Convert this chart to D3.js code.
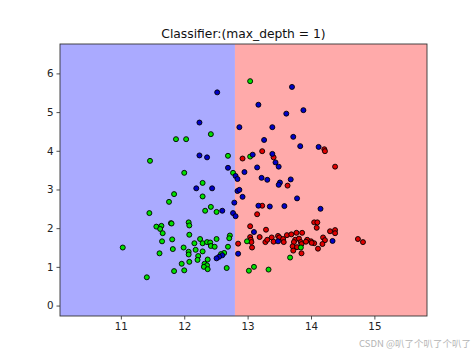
<!DOCTYPE html>
<html>
<head>
<meta charset="utf-8">
<script src="https://cdn.jsdelivr.net/npm/d3@7"></script>
<style>
  body { margin: 0; background: #fff; }
  text { font-family: "DejaVu Sans", sans-serif; }
</style>
</head>
<body>
<div id="chart"></div>
<script>
// class 0 (red), class 1 (green), class 2 (blue) : [x, y]
var redPts = [
  [14.21,4.04],[14.22,3.99],[13.23,3.99],[13.41,3.83],[12.92,3.80],[14.38,3.59],[13.63,3.10],
  [13.23,2.58],[13.15,2.36],[14.05,2.15],[14.10,2.15],[14.09,2.01],[13.04,2.05],[13.29,1.96],
  [14.30,1.92],[14.38,1.95],[14.38,1.87],[13.04,1.77],[13.05,1.70],[13.19,1.77],[13.38,1.76],
  [13.48,1.80],[13.50,1.76],[13.56,1.72],[13.62,1.82],[13.69,1.84],[13.77,1.88],[13.86,1.88],
  [13.75,1.70],[13.81,1.73],[13.84,1.64],[13.94,1.70],[14.00,1.66],[14.05,1.61],[14.19,1.76],
  [14.22,1.69],[14.74,1.72],[14.82,1.64],[12.85,1.60],[13.06,1.64],[13.28,1.64],[13.31,1.70],
  [13.41,1.65],[13.57,1.64],[13.73,1.64],[13.92,1.65],[13.71,1.53],[13.78,1.51],[13.85,1.59],
  [14.01,1.62],[14.18,1.59],[13.07,1.50],[14.11,1.47],[13.72,1.42],[13.85,1.35]
];
var greenPts = [
  [12.42,4.43],[11.87,4.30],[12.03,4.30],[11.46,3.74],[12.69,3.87],[12.77,3.43],[12.00,3.43],
  [12.29,3.17],[11.84,2.88],[12.29,2.82],[13.04,5.80],[13.04,3.85],[11.76,2.68],[11.45,2.39],
  [12.42,2.55],[12.33,2.45],[12.51,2.42],[11.79,2.13],[11.80,2.12],[12.07,2.15],[12.08,2.07],
  [11.56,2.04],[11.64,2.06],[11.62,1.98],[11.66,1.87],[12.08,1.83],[11.81,1.71],[11.65,1.66],
  [12.25,1.72],[12.51,1.72],[12.72,1.81],[12.71,1.74],[12.16,1.61],[12.29,1.61],[12.36,1.64],
  [12.41,1.63],[12.42,1.54],[12.48,1.52],[12.69,1.52],[11.03,1.50],[11.99,1.50],[11.82,1.46],
  [12.18,1.44],[12.29,1.40],[12.07,1.39],[12.07,1.32],[11.61,1.35],[12.63,1.36],[12.58,1.33],
  [12.22,1.28],[12.21,1.18],[12.37,1.19],[12.08,1.13],[11.96,1.08],[12.32,1.08],[12.36,1.04],
  [12.31,1.00],[12.37,0.94],[12.67,0.97],[12.00,0.91],[11.84,0.89],[11.41,0.73],[12.99,1.66],
  [13.84,1.50],[13.67,1.24],[13.10,1.00],[13.02,0.90],[13.33,0.93]
];
var bluePts = [
  [12.52,5.51],[12.24,4.73],[12.87,4.61],[12.24,3.88],[12.36,3.83],[12.69,3.56],[12.81,3.35],
  [12.84,3.27],[12.19,3.03],[12.44,3.03],[12.84,2.96],[13.70,5.65],[13.17,5.19],[13.61,4.96],
  [13.88,5.05],[13.39,4.61],[13.72,4.36],[13.26,4.28],[13.83,4.12],[14.12,4.10],[13.39,3.92],
  [13.08,3.90],[13.44,3.70],[13.49,3.59],[13.15,3.57],[12.95,3.45],[13.22,3.30],[13.31,3.25],
  [13.68,3.26],[13.51,3.18],[13.49,3.12],[12.87,2.99],[12.92,2.81],[13.78,2.77],[12.79,2.66],
  [12.60,2.45],[12.77,2.39],[12.81,2.31],[13.17,2.58],[13.35,2.56],[13.58,2.57],[14.15,2.50],
  [13.10,1.90],[14.34,1.67],[13.48,1.66],[12.60,1.30],[12.55,1.26],[12.51,1.22],[12.85,1.34]
];
var xTicks = [11, 12, 13, 14, 15];
var yTicks = [0, 1, 2, 3, 4, 5, 6];
var xDomain = [10.04, 15.83];
var yDomain = [-0.27, 6.76];
var splitAt = 12.8;   // max_depth = 1 stump threshold

var margin = {top: 44, right: 47, bottom: 39, left: 60},
    width = 474 - margin.left - margin.right,
    height = 355 - margin.top - margin.bottom;

var svg = d3.select("#chart")
  .append("svg")
    .attr("width", 474)
    .attr("height", 355);

var g = svg.append("g")
    .attr("transform", "translate(" + margin.left + "," + margin.top + ")");

var x = d3.scaleLinear().domain(xDomain).range([0, width]);
var y = d3.scaleLinear().domain(yDomain).range([height, 0]);

// decision regions
g.append("rect")
  .attr("x", 0).attr("y", 0)
  .attr("width", x(splitAt)).attr("height", height)
  .attr("fill", "#AAAAFF");
g.append("rect")
  .attr("x", x(splitAt)).attr("y", 0)
  .attr("width", width - x(splitAt)).attr("height", height)
  .attr("fill", "#FFAAAA");

// points
var groups = [
  {pts: redPts, color: "#E00000"},
  {pts: greenPts, color: "#00E000"},
  {pts: bluePts, color: "#0000C8"}
];
groups.forEach(function (grp) {
  g.append("g")
    .selectAll("circle")
    .data(grp.pts)
    .enter()
      .append("circle")
      .attr("cx", d => x(d[0]))
      .attr("cy", d => y(d[1]))
      .attr("r", 2.5)
      .attr("fill", grp.color)
      .attr("stroke", "#000")
      .attr("stroke-width", 0.9);
});

// axes
var xAxis = g.append("g")
  .attr("transform", "translate(0," + height + ")")
  .call(d3.axisBottom(x).tickValues(xTicks).tickFormat(d3.format("d")).tickSize(3.5).tickPadding(3));
var yAxis = g.append("g")
  .call(d3.axisLeft(y).tickValues(yTicks).tickFormat(d3.format("d")).tickSize(3.5).tickPadding(3));

[xAxis, yAxis].forEach(function (ax) {
  ax.select(".domain").remove();
  ax.selectAll("line").attr("stroke", "#222").attr("stroke-width", 0.8);
  ax.selectAll("text")
    .attr("fill", "#222")
    .style("font-family", "DejaVu Sans")
    .style("font-size", "10.3px");
});

// frame
g.append("rect")
  .attr("x", 0).attr("y", 0)
  .attr("width", width).attr("height", height)
  .attr("fill", "none")
  .attr("stroke", "#333")
  .attr("stroke-width", 0.9);

// title
svg.append("text")
  .attr("x", margin.left + width / 2)
  .attr("y", margin.top - 6)
  .attr("text-anchor", "middle")
  .style("font-size", "12.3px")
  .attr("fill", "#111")
  .text("Classifier:(max_depth = 1)");

// watermark
svg.append("text")
  .attr("x", 471)
  .attr("y", 347)
  .attr("text-anchor", "end")
  .style("font-family", "Noto Sans CJK SC")
  .style("font-size", "9.5px")
  .attr("fill", "#b4b4b4")
  .text("CSDN @叭了个叭了个叭了");
</script>
</body>
</html>
